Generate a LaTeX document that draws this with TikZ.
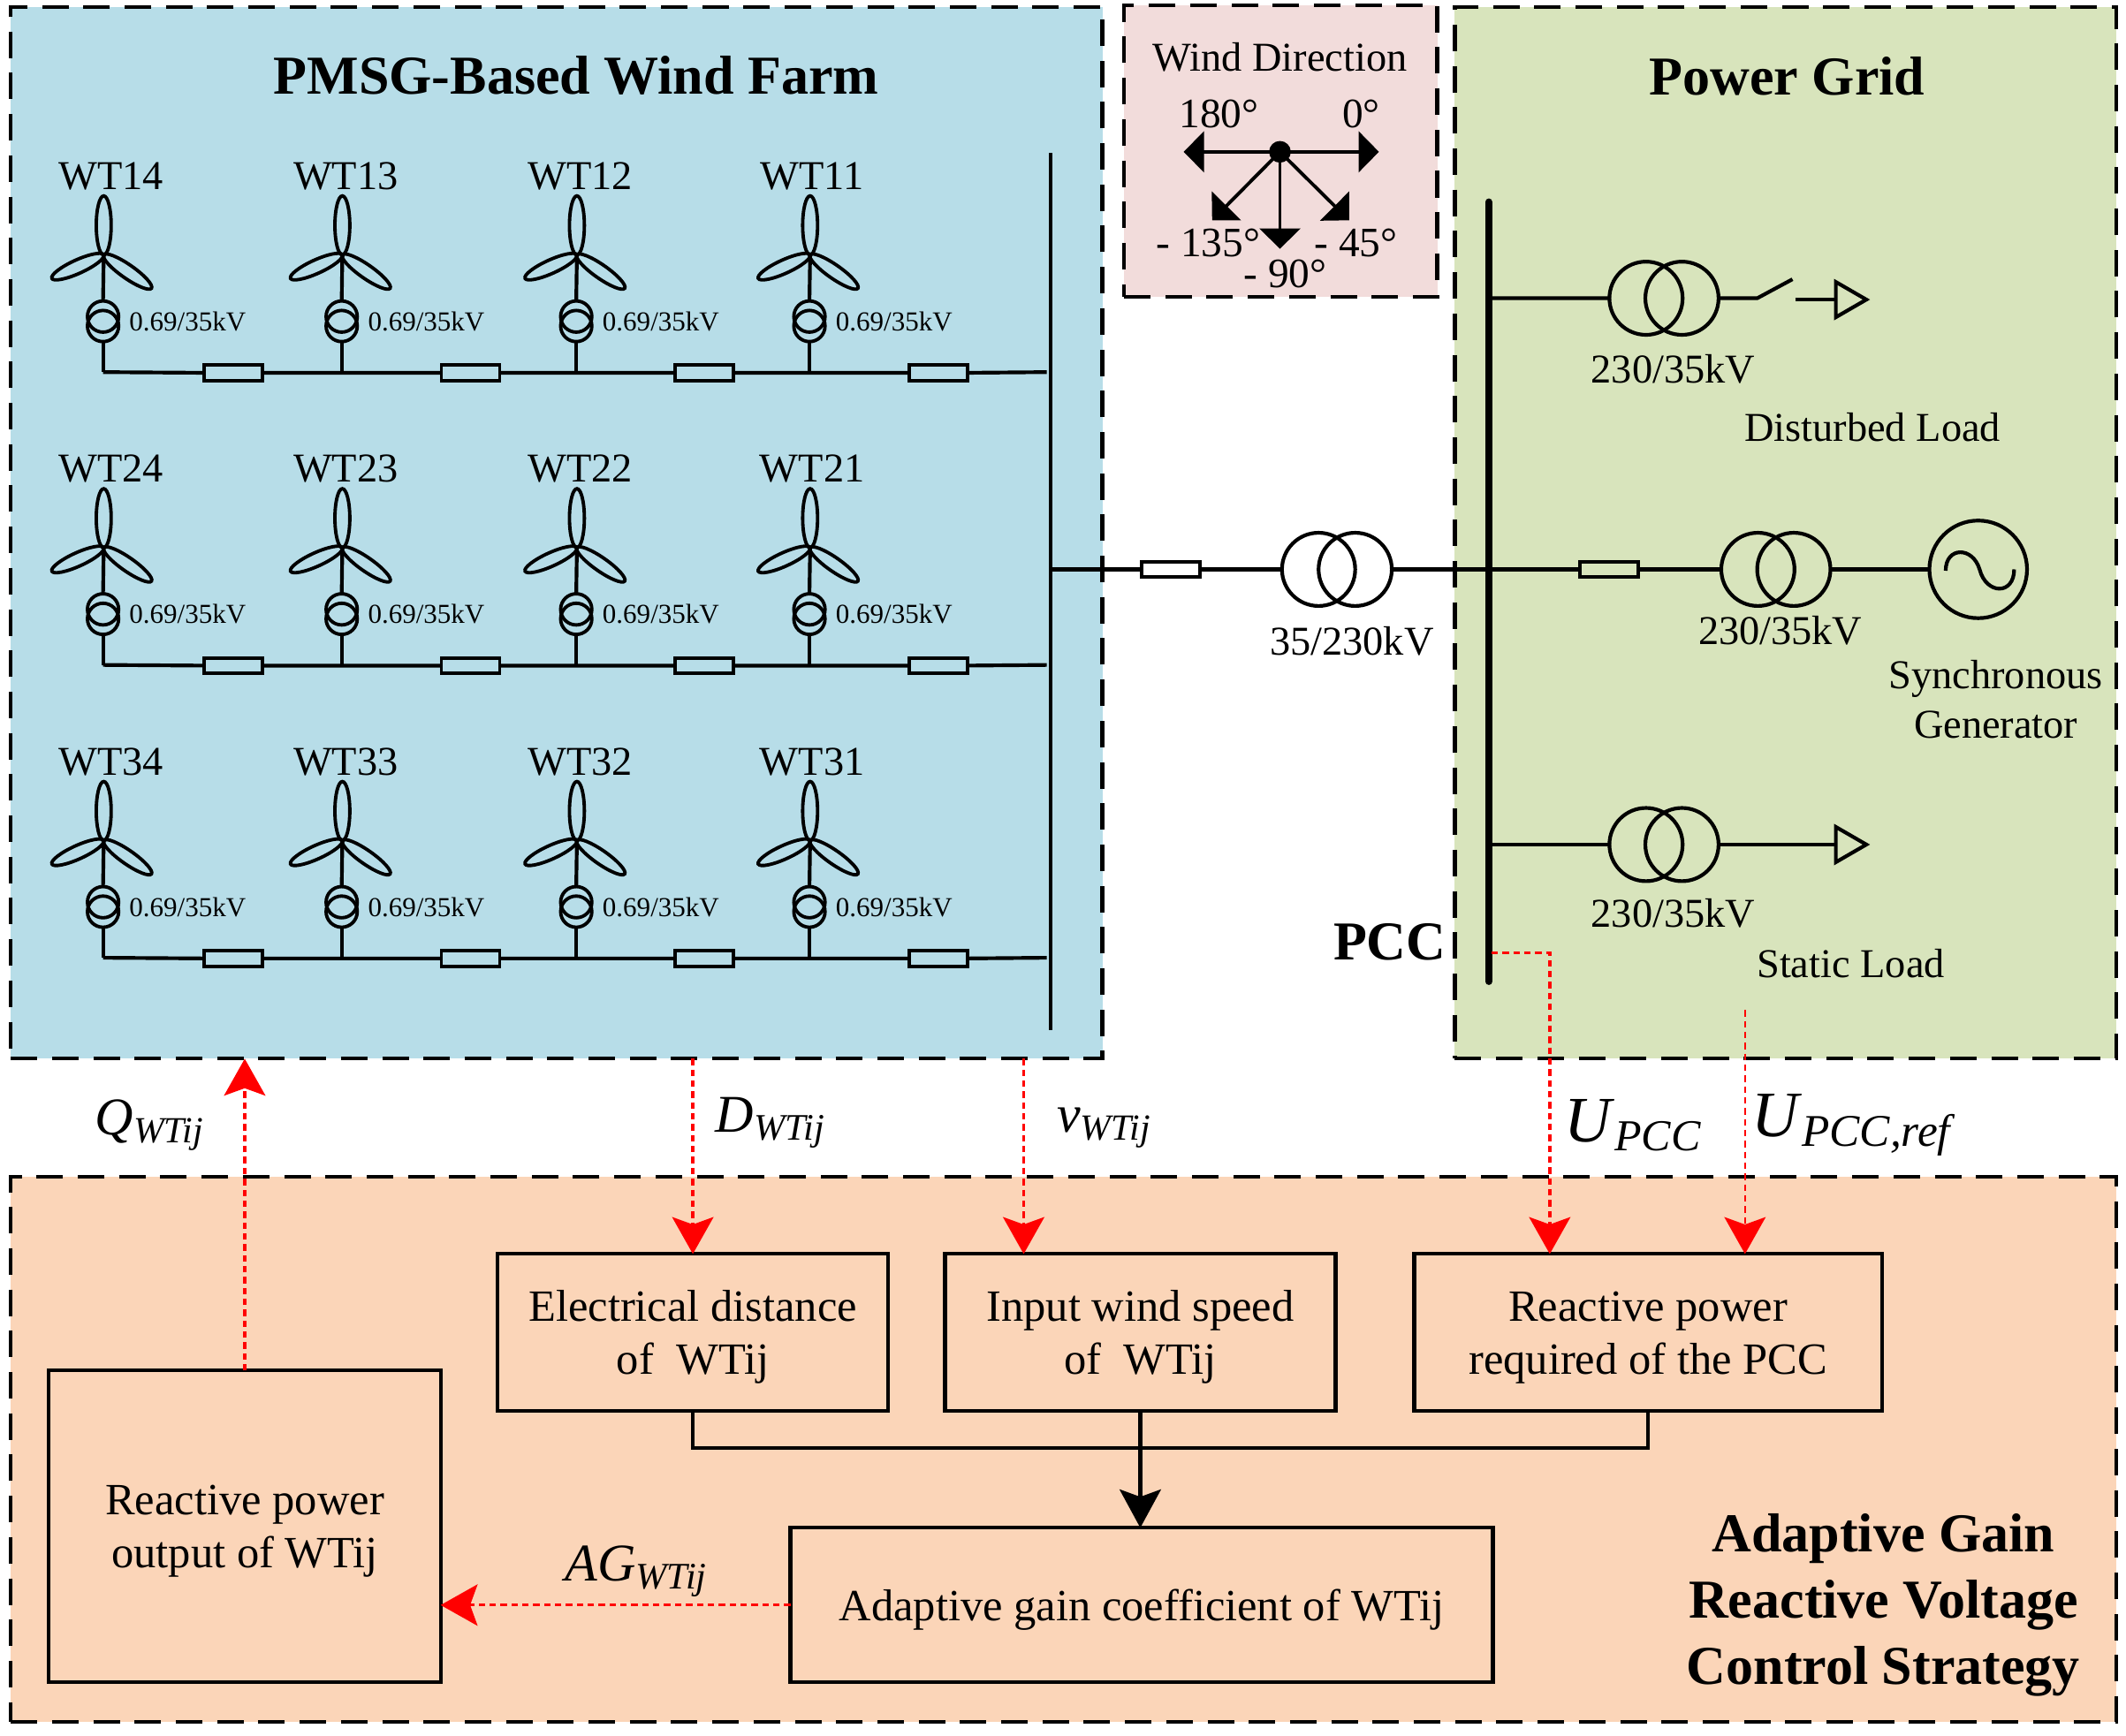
\documentclass[tikz,border=0pt]{standalone}
\usepackage{fontspec}
\setmainfont{Liberation Serif}
\usetikzlibrary{arrows.meta}

\definecolor{farmblue}{HTML}{B7DDE8}
\definecolor{windrose}{HTML}{F2DCDB}
\definecolor{gridgreen}{HTML}{D8E4BC}
\definecolor{ctrlorange}{HTML}{FBD5B8}

\def\pu{0.46pt}
\newcommand{\siglab}[3]{\textit{#1}{\fontsize{#3}{#3}\selectfont\raisebox{-0.45ex}{\textit{#2}}}}

\tikzset{
  wire/.style={line width=1.25pt},
  busbar/.style={line width=2.4pt, line cap=round},
  panel/.style={draw, line width=1.25pt, dash pattern=on 9pt off 5pt, inner sep=0, outer sep=0},
  txt/.style={inner sep=0, font=\fontsize{13.9pt}{16.6pt}\selectfont},
  rosetxt/.style={inner sep=0, font=\fontsize{14.2pt}{16.6pt}\selectfont},
  smalltxt/.style={inner sep=0, font=\fontsize{9.3pt}{11pt}\selectfont},
  boxtxt/.style={draw, line width=1.25pt, inner sep=0, outer sep=0, align=center, text depth=0pt, font=\fontsize{15.15pt}{18pt}\selectfont},
  headline/.style={inner sep=0, align=center, font=\bfseries\fontsize{18.6pt}{22.4pt}\selectfont},
  siglabel/.style={inner sep=0},
  xfmr/.style={draw, circle, line width=1.25pt, inner sep=0, outer sep=0, minimum size=54*\pu},
  xfmrsmall/.style={draw, circle, line width=1.15pt, inner sep=0, outer sep=0, minimum size=23*\pu},
  resistor/.style={draw, rectangle, line width=1.15pt, inner sep=0, outer sep=0, minimum width=43*\pu, minimum height=11.5*\pu},
  signal/.style={red, line width=1pt, dash pattern=on 2.2pt off 1.5pt, -{Stealth[length=12.5pt,width=14pt,inset=2.5pt]}},
  rosearrow/.style={line width=1.15pt, -{Triangle[length=6.9pt,width=13.8pt]}}
}

\begin{document}
\begin{tikzpicture}[x=\pu, y=-\pu]
  \useasboundingbox (0,0) rectangle (1568,1280);

  % Hintergrund
  \draw (410.5,393) node[panel, fill=farmblue, minimum width=805*\pu, minimum height=776*\pu] (Farm) {};
  \draw (944.5,111.5) node[panel, fill=windrose, minimum width=231*\pu, minimum height=215*\pu] (Wind) {};
  \draw (1317,393) node[panel, fill=gridgreen, minimum width=488*\pu, minimum height=776*\pu] (Grid) {};
  \draw (784.5,1069) node[panel, fill=ctrlorange, minimum width=1553*\pu, minimum height=402*\pu] (Ctrl) {};

  \draw (425,56) node[headline] (FarmTitle) {PMSG-Based Wind Farm};
  \draw (1318,56) node[headline] (GridTitle) {Power Grid};
  \draw (1025,695) node[headline] (PCC) {PCC};
  \draw (1389,1184) node[headline] (CtrlTitle) {Adaptive Gain\\Reactive Voltage\\Control Strategy};

  % Windrichtung
  \draw (944,42) node[txt] (WindTitle) {Wind Direction};
  \draw (899,84) node[rosetxt] (Deg180) {180°};
  \draw (1004,84) node[rosetxt] (Deg0) {0°};
  \draw (891,179) node[rosetxt] (Deg135) {- 135°};
  \draw (1000,179) node[rosetxt] (Deg45) {- 45°};
  \draw (948,202) node[rosetxt] (Deg90) {- 90°};
  \draw (944,112) node[circle, fill=black, inner sep=0, minimum size=16*\pu] (Hub) {};
  \coordinate (TipW) at (873,112);
  \coordinate (TipE) at (1017,112);
  \coordinate (TipSW) at (894,162.5);
  \coordinate (TipS) at (944,183.5);
  \coordinate (TipSE) at (995,162.5);
  \foreach \tip in {TipW,TipE,TipSW,TipS,TipSE}
    \draw[rosearrow] (Hub.center) -- (\tip);

  % Windpark
  \foreach \row/\dy in {1/0, 2/216, 3/432} {
    \foreach \col/\cx/\lx/\rx in {4/76/82/172, 3/252/255/347, 2/425/428/519.5, 1/597/599/692} {
      \draw (\lx,130+\dy) node[txt] (WT\row\col) {WT\row\col};
      \coordinate (H\row\col) at (\cx+0.5,188+\dy);
      \begin{scope}[shift={(H\row\col)}, line width=1.15pt]
        \draw (0,-21.75) ellipse [x radius=5.5, y radius=21.75];
        \draw[rotate=114.4] (0,-21) ellipse [x radius=5, y radius=21];
        \draw[rotate=-125] (0,-21.5) ellipse [x radius=5, y radius=21.5];
      \end{scope}
      \draw (\cx,233.5+\dy) node[xfmrsmall] (TU\row\col) {};
      \draw (\cx,240.5+\dy) node[xfmrsmall] (TL\row\col) {};
      \draw (\cx+19,237+\dy) node[smalltxt, anchor=west] (KV\row\col) {0.69/35kV};
      \draw (\rx,275+\dy) node[resistor] (R\row\col) {};
      \coordinate (F\row\col) at (\cx,274.5+\dy);
      \draw[wire] (H\row\col) -- (TU\row\col.north);
      \draw[wire] (TL\row\col.south) -- (F\row\col);
    }
    \coordinate (FE\row) at (772,274.5+\dy);
    \draw[wire] (F\row4) -- (R\row4.west) (R\row4.east) -- (R\row3.west)
      (R\row3.east) -- (R\row2.west) (R\row2.east) -- (R\row1.west) (R\row1.east) -- (FE\row);
  }
  \coordinate (FarmBusT) at (775,113);
  \coordinate (FarmBusB) at (775,760);
  \coordinate (FarmBusM) at (775,420);
  \draw[wire] (FarmBusT) -- (FarmBusB);

  % Verbindung zum Netz
  \draw (863.5,420) node[resistor] (RMain) {};
  \draw (972.5,420) node[xfmr] (TMainA) {};
  \draw (999.5,420) node[xfmr] (TMainB) {};
  \draw (997,473) node[txt] (TMainLab) {35/230kV};

  % Netz
  \coordinate (GridBusT) at (1098,149);
  \coordinate (GridBusB) at (1098,724);
  \coordinate (GridBusM) at (1098,420);
  \coordinate (GridBusD) at (1098,220);
  \coordinate (GridBusS) at (1098,623);
  \draw[busbar] (GridBusT) -- (GridBusB);
  \draw (1186.5,420) node[resistor] (RGen) {};
  \draw (1296.5,420) node[xfmr] (TGenA) {};
  \draw (1323,420) node[xfmr] (TGenB) {};
  \draw (1459,420) node[draw, circle, line width=1.25pt, inner sep=0, outer sep=0, minimum size=72*\pu] (Gen) {};
  \draw[wire] (1435,421) .. controls (1435,403) and (1455,403) .. (1460,420) .. controls (1465,439) and (1485.5,439) .. (1485.5,420);
  \draw[wire] (FarmBusM) -- (RMain.west) (RMain.east) -- (TMainA.west) (TMainB.east) -- (RGen.west) (RGen.east) -- (TGenA.west) (TGenB.east) -- (Gen.west);
  \draw (1313,465) node[txt] (TGenLab) {230/35kV};
  \draw (1472,516) node[txt, align=center] (GenLab) {Synchronous\\Generator};

  \draw (1214,220) node[xfmr] (TDistA) {};
  \draw (1240.5,220) node[xfmr] (TDistB) {};
  \coordinate (SwA) at (1296,220);
  \coordinate (SwB) at (1322,206);
  \coordinate (DistIn) at (1354,221);
  \coordinate (DistOut) at (1324,221);
  \draw[wire] (GridBusD) -- (TDistA.west) (TDistB.east) -- (SwA) -- (SwB);
  \draw[wire] (DistOut) -- (DistIn);
  \draw[wire, line join=miter] (1354,208) -- (1376.5,221) -- (1354,234) -- cycle;
  \draw (1234,272) node[txt] (TDistLab) {230/35kV};
  \draw (1381,315) node[txt] (DistLab) {Disturbed Load};

  \draw (1214,623) node[xfmr] (TStatA) {};
  \draw (1240.5,623) node[xfmr] (TStatB) {};
  \coordinate (StatIn) at (1354,623);
  \draw[wire] (GridBusS) -- (TStatA.west) (TStatB.east) -- (StatIn);
  \draw[wire, line join=miter] (1354,610) -- (1376.5,623) -- (1354,636) -- cycle;
  \draw (1234,674) node[txt] (TStatLab) {230/35kV};
  \draw (1365,711) node[txt] (StatLab) {Static Load};

  % Regelung
  \draw (511,983) node[boxtxt, minimum width=288*\pu, minimum height=116*\pu] (Elec) {Electrical distance\\of\ \ WTij};
  \draw (841,983) node[boxtxt, minimum width=288*\pu, minimum height=116*\pu] (Speed) {Input wind speed\\of\ \ WTij};
  \draw (1215.5,983) node[boxtxt, minimum width=345*\pu, minimum height=116*\pu] (Need) {Reactive power\\required of the PCC};
  \draw (842,1184) node[boxtxt, minimum width=518*\pu, minimum height=114*\pu] (Gain) {Adaptive gain coefficient of WTij};
  \draw (180.5,1126) node[boxtxt, minimum width=289*\pu, minimum height=230*\pu] (Output) {Reactive power\\output of WTij};

  \coordinate (Merge) at (841,1068);
  \draw[wire] (Elec.south) |- (Merge) -| (Need.south);
  \draw[wire, -{Stealth[length=13pt,width=14pt,inset=2.5pt]}] (Speed.south) -- (Gain.north -| Speed.south);

  % Signale
  \coordinate (SpeedIn) at (755,925);
  \coordinate (PccTap) at (1100,703);
  \coordinate (PccBend) at (1143,703);
  \coordinate (PccIn) at (1143,925);
  \coordinate (RefOut) at (1287,745);
  \coordinate (RefIn) at (1287,925);
  \draw[signal] (Output.north) -- (Output.north |- Farm.south);
  \draw[signal] (Elec.north |- Farm.south) -- (Elec.north);
  \draw[signal] (SpeedIn |- Farm.south) -- (SpeedIn);
  \draw[signal] (PccTap) -- (PccBend) -- (PccIn);
  \draw[signal, line width=0.8pt] (RefOut) -- (RefIn);
  \draw[signal] (Gain.west) -- (Output.east |- Gain.west);

  \draw (110,830) node[siglabel, font=\fontsize{18pt}{20pt}\selectfont] (QLab) {\siglab{Q}{WTij}{12.5pt}};
  \draw (568,828) node[siglabel, font=\fontsize{18pt}{20pt}\selectfont] (DLab) {\siglab{D}{WTij}{12.7pt}};
  \draw (814,832) node[siglabel, font=\fontsize{18pt}{20pt}\selectfont] (VLab) {\siglab{v}{WTij}{12.5pt}};
  \draw (469,1159) node[siglabel, font=\fontsize{18pt}{20pt}\selectfont] (AGLab) {\siglab{AG}{WTij}{12.7pt}};
  \draw (1204,830) node[siglabel, font=\fontsize{22pt}{24pt}\selectfont] (ULab) {\siglab{U}{PCC}{15pt}};
  \draw (1367,830) node[siglabel, font=\fontsize{22pt}{24pt}\selectfont] (URefLab) {\siglab{U}{PCC,ref}{15.4pt}};

\end{tikzpicture}
\end{document}
